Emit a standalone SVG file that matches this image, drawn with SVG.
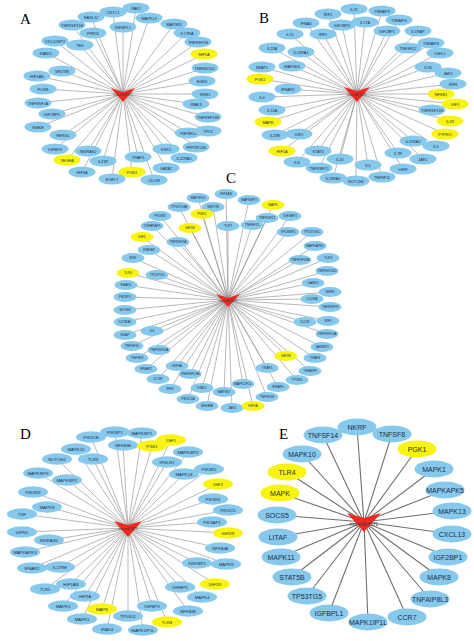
<svg xmlns="http://www.w3.org/2000/svg" xmlns:xlink="http://www.w3.org/1999/xlink" width="474" height="641" viewBox="0 0 474 641">
<style>
.b{fill:#87C9EC}
.y{fill:#F8F40F}
text{font-family:"Liberation Sans",Arial,sans-serif;fill:#1E2C48;text-anchor:middle;dominant-baseline:central}
.ta{font-size:3.9px}
.tc{font-size:3.3px}
.td{font-size:4.3px}
.te{font-size:7px}
.lab{font-family:"Liberation Serif","Times New Roman",serif;font-size:15px;fill:#000;text-anchor:start;dominant-baseline:auto}
.ed{stroke:#8A8A8A;stroke-width:0.6;fill:none}
.ede{stroke:#707070;stroke-width:1.1;fill:none}
.red{fill:#F02A22}
.cl{font-size:3px;fill:#333}
</style>
<defs>
<ellipse id="ea" rx="13.5" ry="5.5"/>
<ellipse id="ec" rx="11.5" ry="5"/>
<ellipse id="ed" rx="15" ry="5.8"/>
<ellipse id="ee" rx="19.5" ry="8.5"/>
</defs>
<rect width="474" height="641" fill="#fff"/>
<text class="lab" x="20" y="24">A</text>
<text class="lab" x="259" y="23">B</text>
<text class="lab" x="226" y="183">C</text>
<text class="lab" x="20" y="439">D</text>
<text class="lab" x="279" y="439">E</text>
<g id="connectors">
<path class="ed" d="M123 94L136 8M123 94L113 12M123 94L91 17M123 94L149 18M123 94L174 24M123 94L72 25M123 94L123 27M123 94L93 33M123 94L187 33M123 94L55 41M123 94L80 45M123 94L198 42M123 94L46 53M123 94L204 54M123 94L205 68M123 94L62 71M123 94L37 76M123 94L202 81M123 94L43 89M123 94L205 94M123 94L38 103M123 94L196 104M123 94L52 114M123 94L208 117M123 94L38 127M123 94L63 135M123 94L188 133M123 94L208 131M123 94L55 149M123 94L88 151M123 94L166 149M123 94L196 147M123 94L138 157M123 94L67 160M123 94L103 161M123 94L184 158M123 94L166 168M123 94L132 172M123 94L82 172M123 94L112 179M123 94L154 180"/>
<path class="ed" d="M357 94L354 9M357 94L328 14M357 94L382 11M357 94L306 23M357 94L342 25M357 94L365 22M357 94L399 20M357 94L290 34M357 94L323 34M357 94L387 31M357 94L418 31M357 94L272 48M357 94L301 52M357 94L408 48M357 94L431 43M357 94L440 53M357 94L262 67M357 94L292 66M357 94L428 67M357 94L260 79M357 94L448 73M357 94L288 89M357 94L453 84M357 94L262 97M357 94L441 94M357 94L455 104M357 94L272 110M357 94L432 110M357 94L268 122M357 94L450 121M357 94L275 135M357 94L299 134M357 94L445 134M357 94L413 141M357 94L436 146M357 94L282 151M357 94L318 151M357 94L398 153M357 94L423 159M357 94L297 162M357 94L340 159M357 94L368 165M357 94L403 169M357 94L319 168M357 94L333 178M357 94L356 181M357 94L382 177"/>
<path class="ed" d="M228 300L226 194M228 300L198 198M228 300L249 200M228 300L179 207M228 300L213 207M228 300L273 205M228 300L160 216M228 300L202 214M228 300L267 218M228 300L290 216M228 300L152 226M228 300L190 228M228 300L228 226M228 300L252 225M228 300L288 232M228 300L312 232M228 300L142 237M228 300L178 242M228 300L315 246M228 300L149 250M228 300L133 258M228 300L300 260M228 300L328 258M228 300L128 273M228 300L157 275M228 300L327 271M228 300L126 285M228 300L313 283M228 300L125 297M228 300L330 292M228 300L312 299M228 300L125 310M228 300L330 307M228 300L125 322M228 300L305 322M228 300L328 321M228 300L125 335M228 300L152 331M228 300L327 334M228 300L132 346M228 300L159 350M228 300L322 347M228 300L286 356M228 300L137 358M228 300L315 358M228 300L146 369M228 300L177 366M228 300L267 368M228 300L310 371M228 300L158 379M228 300L190 374M228 300L297 380M228 300L170 389M228 300L202 388M228 300L243 384M228 300L278 387M228 300L224 392M228 300L188 399M228 300L267 397M228 300L207 406M228 300L232 408M228 300L253 406"/>
<path class="ed" d="M128 528L115 432M128 528L142 433M128 528L91 437M128 528L171 440M128 528L123 445M128 528L152 446M128 528L76 449M128 528L188 452M128 528L57 459M128 528L93 459M128 528L167 462M128 528L209 469M128 528L38 473M128 528L67 480M128 528L184 474M128 528L218 484M128 528L33 492M128 528L213 499M128 528L47 507M128 528L228 510M128 528L22 514M128 528L212 522M128 528L22 532M128 528L228 533M128 528L49 540M128 528L220 548M128 528L25 552M128 528L197 563M128 528L226 564M128 528L32 568M128 528L60 567M128 528L215 584M128 528L71 584M128 528L45 589M128 528L180 587M128 528L85 596M128 528L202 597M128 528L63 606M128 528L152 606M128 528L102 609M128 528L188 611M128 528L128 616M128 528L82 619M128 528L167 622M128 528L107 629M128 528L143 630"/>
<path class="ede" d="M364 522L357 427M364 522L323 435M364 522L392 434M364 522L417 449M364 522L302 454M364 522L434 469M364 522L287 472M364 522L445 490M364 522L280 493M364 522L452 511M364 522L277 515M364 522L278 537M364 522L452 534M364 522L281 557M364 522L448 557M364 522L292 577M364 522L439 577M364 522L307 596M364 522L430 599M364 522L329 613M364 522L407 617M364 522L368 622"/>
</g>
<g id="panelA">
<g id="A-center"><polygon class="red" points="111,88 123,92 135,88 123,102"/><text class="cl" x="123" y="95">hsa-miR-8071</text></g>
<g id="A-PAK2"><use xlink:href="#ea" class="b" x="136" y="8"/><text class="ta" x="136" y="8">PAK2</text></g>
<g id="A-CRTC1"><use xlink:href="#ea" class="b" x="113" y="12"/><text class="ta" x="113" y="12">CRTC1</text></g>
<g id="A-RASL12"><use xlink:href="#ea" class="b" x="91" y="17"/><text class="ta" x="91" y="17">RASL12</text></g>
<g id="A-MAPK14"><use xlink:href="#ea" class="b" x="149" y="18"/><text class="ta" x="149" y="18">MAPK14</text></g>
<g id="A-MAP3K3"><use xlink:href="#ea" class="b" x="174" y="24"/><text class="ta" x="174" y="24">MAP3K3</text></g>
<g id="A-TNFRSF11B"><use xlink:href="#ea" class="b" x="72" y="25"/><text class="ta" x="72" y="25">TNFRSF11B</text></g>
<g id="A-IGFBPL1"><use xlink:href="#ea" class="b" x="123" y="27"/><text class="ta" x="123" y="27">IGFBPL1</text></g>
<g id="A-PRR11"><use xlink:href="#ea" class="b" x="93" y="33"/><text class="ta" x="93" y="33">PRR11</text></g>
<g id="A-IL17RA"><use xlink:href="#ea" class="b" x="187" y="33"/><text class="ta" x="187" y="33">IL17RA</text></g>
<g id="A-CDC42EP2"><use xlink:href="#ea" class="b" x="55" y="41"/><text class="ta" x="55" y="41">CDC42EP2</text></g>
<g id="A-TEK"><use xlink:href="#ea" class="b" x="80" y="45"/><text class="ta" x="80" y="45">TEK</text></g>
<g id="A-TNFRSF1B"><use xlink:href="#ea" class="b" x="198" y="42"/><text class="ta" x="198" y="42">TNFRSF1B</text></g>
<g id="A-RAB21"><use xlink:href="#ea" class="b" x="46" y="53"/><text class="ta" x="46" y="53">RAB21</text></g>
<g id="A-HIF1A"><use xlink:href="#ea" class="y" x="204" y="54"/><text class="ta" x="204" y="54">HIF1A</text></g>
<g id="A-TMEM150C"><use xlink:href="#ea" class="b" x="205" y="68"/><text class="ta" x="205" y="68">TMEM150C</text></g>
<g id="A-WNT9B"><use xlink:href="#ea" class="b" x="62" y="71"/><text class="ta" x="62" y="71">WNT9B</text></g>
<g id="A-HIF1AN"><use xlink:href="#ea" class="b" x="37" y="76"/><text class="ta" x="37" y="76">HIF1AN</text></g>
<g id="A-EGR3"><use xlink:href="#ea" class="b" x="202" y="81"/><text class="ta" x="202" y="81">EGR3</text></g>
<g id="A-FOSB"><use xlink:href="#ea" class="b" x="43" y="89"/><text class="ta" x="43" y="89">FOSB</text></g>
<g id="A-SIKE1"><use xlink:href="#ea" class="b" x="205" y="94"/><text class="ta" x="205" y="94">SIKE1</text></g>
<g id="A-TNFRSF1A"><use xlink:href="#ea" class="b" x="38" y="103"/><text class="ta" x="38" y="103">TNFRSF1A</text></g>
<g id="A-IRAK3"><use xlink:href="#ea" class="b" x="196" y="104"/><text class="ta" x="196" y="104">IRAK3</text></g>
<g id="A-IGF2BP1"><use xlink:href="#ea" class="b" x="52" y="114"/><text class="ta" x="52" y="114">IGF2BP1</text></g>
<g id="A-TNFRSF13B"><use xlink:href="#ea" class="b" x="208" y="117"/><text class="ta" x="208" y="117">TNFRSF13B</text></g>
<g id="A-IKBKE"><use xlink:href="#ea" class="b" x="38" y="127"/><text class="ta" x="38" y="127">IKBKE</text></g>
<g id="A-RERGL"><use xlink:href="#ea" class="b" x="63" y="135"/><text class="ta" x="63" y="135">RERGL</text></g>
<g id="A-TNFSF14"><use xlink:href="#ea" class="b" x="188" y="133"/><text class="ta" x="188" y="133">TNFSF14</text></g>
<g id="A-TP53"><use xlink:href="#ea" class="b" x="208" y="131"/><text class="ta" x="208" y="131">TP53</text></g>
<g id="A-IGFBP4"><use xlink:href="#ea" class="b" x="55" y="149"/><text class="ta" x="55" y="149">IGFBP4</text></g>
<g id="A-NKIRAS2"><use xlink:href="#ea" class="b" x="88" y="151"/><text class="ta" x="88" y="151">NKIRAS2</text></g>
<g id="A-KSR1"><use xlink:href="#ea" class="b" x="166" y="149"/><text class="ta" x="166" y="149">KSR1</text></g>
<g id="A-PPP1R12B"><use xlink:href="#ea" class="b" x="196" y="147"/><text class="ta" x="196" y="147">PPP1R12B</text></g>
<g id="A-TRAF3"><use xlink:href="#ea" class="b" x="138" y="157"/><text class="ta" x="138" y="157">TRAF3</text></g>
<g id="A-VEGFA"><use xlink:href="#ea" class="y" x="67" y="160"/><text class="ta" x="67" y="160">VEGFA</text></g>
<g id="A-IL23R"><use xlink:href="#ea" class="b" x="103" y="161"/><text class="ta" x="103" y="161">IL23R</text></g>
<g id="A-IL22RA2"><use xlink:href="#ea" class="b" x="184" y="158"/><text class="ta" x="184" y="158">IL22RA2</text></g>
<g id="A-GATA2"><use xlink:href="#ea" class="b" x="166" y="168"/><text class="ta" x="166" y="168">GATA2</text></g>
<g id="A-PGK1"><use xlink:href="#ea" class="y" x="132" y="172"/><text class="ta" x="132" y="172">PGK1</text></g>
<g id="A-HIF3A"><use xlink:href="#ea" class="b" x="82" y="172"/><text class="ta" x="82" y="172">HIF3A</text></g>
<g id="A-EGFL7"><use xlink:href="#ea" class="b" x="112" y="179"/><text class="ta" x="112" y="179">EGFL7</text></g>
<g id="A-CDON"><use xlink:href="#ea" class="b" x="154" y="180"/><text class="ta" x="154" y="180">CDON</text></g>
</g>
<g id="panelB">
<g id="B-center"><polygon class="red" points="344,87 357,91 370,87 357,102"/><text class="cl" x="357" y="95">hsa-miR-8071</text></g>
<g id="B-IL22"><use xlink:href="#ea" class="b" x="354" y="9"/><text class="ta" x="354" y="9">IL22</text></g>
<g id="B-IRF2"><use xlink:href="#ea" class="b" x="328" y="14"/><text class="ta" x="328" y="14">IRF2</text></g>
<g id="B-TNFAIP3"><use xlink:href="#ea" class="b" x="382" y="11"/><text class="ta" x="382" y="11">TNFAIP3</text></g>
<g id="B-IFNA4"><use xlink:href="#ea" class="b" x="306" y="23"/><text class="ta" x="306" y="23">IFNA4</text></g>
<g id="B-IGF2BP3"><use xlink:href="#ea" class="b" x="342" y="25"/><text class="ta" x="342" y="25">IGF2BP3</text></g>
<g id="B-IL17A"><use xlink:href="#ea" class="b" x="365" y="22"/><text class="ta" x="365" y="22">IL17A</text></g>
<g id="B-TNFAIP6"><use xlink:href="#ea" class="b" x="399" y="20"/><text class="ta" x="399" y="20">TNFAIP6</text></g>
<g id="B-IL15"><use xlink:href="#ea" class="b" x="290" y="34"/><text class="ta" x="290" y="34">IL15</text></g>
<g id="B-IRF1"><use xlink:href="#ea" class="b" x="323" y="34"/><text class="ta" x="323" y="34">IRF1</text></g>
<g id="B-IGF2BP1"><use xlink:href="#ea" class="b" x="387" y="31"/><text class="ta" x="387" y="31">IGF2BP1</text></g>
<g id="B-IL1RAP"><use xlink:href="#ea" class="b" x="418" y="31"/><text class="ta" x="418" y="31">IL1RAP</text></g>
<g id="B-IL23A"><use xlink:href="#ea" class="b" x="272" y="48"/><text class="ta" x="272" y="48">IL23A</text></g>
<g id="B-IL13RA1"><use xlink:href="#ea" class="b" x="301" y="52"/><text class="ta" x="301" y="52">IL13RA1</text></g>
<g id="B-TNFSF12"><use xlink:href="#ea" class="b" x="408" y="48"/><text class="ta" x="408" y="48">TNFSF12</text></g>
<g id="B-TNFAIP8"><use xlink:href="#ea" class="b" x="431" y="43"/><text class="ta" x="431" y="43">TNFAIP8</text></g>
<g id="B-IGFL1"><use xlink:href="#ea" class="b" x="440" y="53"/><text class="ta" x="440" y="53">IGFL1</text></g>
<g id="B-NFAT5"><use xlink:href="#ea" class="b" x="262" y="67"/><text class="ta" x="262" y="67">NFAT5</text></g>
<g id="B-MAP4K4"><use xlink:href="#ea" class="b" x="292" y="66"/><text class="ta" x="292" y="66">MAP4K4</text></g>
<g id="B-IL33"><use xlink:href="#ea" class="b" x="428" y="67"/><text class="ta" x="428" y="67">IL33</text></g>
<g id="B-PGK1"><use xlink:href="#ea" class="y" x="260" y="79"/><text class="ta" x="260" y="79">PGK1</text></g>
<g id="B-JAK2"><use xlink:href="#ea" class="b" x="448" y="73"/><text class="ta" x="448" y="73">JAK2</text></g>
<g id="B-IFNAR1"><use xlink:href="#ea" class="b" x="288" y="89"/><text class="ta" x="288" y="89">IFNAR1</text></g>
<g id="B-IRF8"><use xlink:href="#ea" class="b" x="453" y="84"/><text class="ta" x="453" y="84">IRF8</text></g>
<g id="B-IL4"><use xlink:href="#ea" class="b" x="262" y="97"/><text class="ta" x="262" y="97">IL4</text></g>
<g id="B-NFKB1"><use xlink:href="#ea" class="y" x="441" y="94"/><text class="ta" x="441" y="94">NFKB1</text></g>
<g id="B-IGF1"><use xlink:href="#ea" class="y" x="455" y="104"/><text class="ta" x="455" y="104">IGF1</text></g>
<g id="B-IL12A"><use xlink:href="#ea" class="b" x="272" y="110"/><text class="ta" x="272" y="110">IL12A</text></g>
<g id="B-TNFRSF11B"><use xlink:href="#ea" class="b" x="432" y="110"/><text class="ta" x="432" y="110">TNFRSF11B</text></g>
<g id="B-MAPK"><use xlink:href="#ea" class="y" x="268" y="122"/><text class="ta" x="268" y="122">MAPK</text></g>
<g id="B-IL29"><use xlink:href="#ea" class="y" x="450" y="121"/><text class="ta" x="450" y="121">IL29</text></g>
<g id="B-IL23R"><use xlink:href="#ea" class="b" x="275" y="135"/><text class="ta" x="275" y="135">IL23R</text></g>
<g id="B-IGF2"><use xlink:href="#ea" class="b" x="299" y="134"/><text class="ta" x="299" y="134">IGF2</text></g>
<g id="B-PTPRO"><use xlink:href="#ea" class="y" x="445" y="134"/><text class="ta" x="445" y="134">PTPRO</text></g>
<g id="B-IL22RA2"><use xlink:href="#ea" class="b" x="413" y="141"/><text class="ta" x="413" y="141">IL22RA2</text></g>
<g id="B-IL5"><use xlink:href="#ea" class="b" x="436" y="146"/><text class="ta" x="436" y="146">IL5</text></g>
<g id="B-HIF1A"><use xlink:href="#ea" class="y" x="282" y="151"/><text class="ta" x="282" y="151">HIF1A</text></g>
<g id="B-STAT3"><use xlink:href="#ea" class="b" x="318" y="151"/><text class="ta" x="318" y="151">STAT3</text></g>
<g id="B-IL7R"><use xlink:href="#ea" class="b" x="398" y="153"/><text class="ta" x="398" y="153">IL7R</text></g>
<g id="B-JAK1"><use xlink:href="#ea" class="b" x="423" y="159"/><text class="ta" x="423" y="159">JAK1</text></g>
<g id="B-IL8"><use xlink:href="#ea" class="b" x="297" y="162"/><text class="ta" x="297" y="162">IL8</text></g>
<g id="B-IL20"><use xlink:href="#ea" class="b" x="340" y="159"/><text class="ta" x="340" y="159">IL20</text></g>
<g id="B-IL6"><use xlink:href="#ea" class="b" x="368" y="165"/><text class="ta" x="368" y="165">IL6</text></g>
<g id="B-IGFR"><use xlink:href="#ea" class="b" x="403" y="169"/><text class="ta" x="403" y="169">IGFR</text></g>
<g id="B-TNFRSF21"><use xlink:href="#ea" class="b" x="319" y="168"/><text class="ta" x="319" y="168">TNFRSF21</text></g>
<g id="B-IL13RA2"><use xlink:href="#ea" class="b" x="333" y="178"/><text class="ta" x="333" y="178">IL13RA2</text></g>
<g id="B-NOTCH2"><use xlink:href="#ea" class="b" x="356" y="181"/><text class="ta" x="356" y="181">NOTCH2</text></g>
<g id="B-TNFSF11"><use xlink:href="#ea" class="b" x="382" y="177"/><text class="ta" x="382" y="177">TNFSF11</text></g>
</g>
<g id="panelC">
<g id="C-center"><polygon class="red" points="216,294 228,298 240,294 228,307"/><text class="cl" x="228" y="301">hsa-miR-8071</text></g>
<g id="C-HIF1AN"><use xlink:href="#ec" class="b" x="226" y="194"/><text class="tc" x="226" y="194">HIF1AN</text></g>
<g id="C-MAP3K13"><use xlink:href="#ec" class="b" x="198" y="198"/><text class="tc" x="198" y="198">MAP3K13</text></g>
<g id="C-MAPK8IP2"><use xlink:href="#ec" class="b" x="249" y="200"/><text class="tc" x="249" y="200">MAPK8IP2</text></g>
<g id="C-TP53TG3B"><use xlink:href="#ec" class="b" x="179" y="207"/><text class="tc" x="179" y="207">TP53TG3B</text></g>
<g id="C-WNT7B"><use xlink:href="#ec" class="b" x="213" y="207"/><text class="tc" x="213" y="207">WNT7B</text></g>
<g id="C-MAPK"><use xlink:href="#ec" class="y" x="273" y="205"/><text class="tc" x="273" y="205">MAPK</text></g>
<g id="C-PIK3R3"><use xlink:href="#ec" class="b" x="160" y="216"/><text class="tc" x="160" y="216">PIK3R3</text></g>
<g id="C-PGK1"><use xlink:href="#ec" class="y" x="202" y="214"/><text class="tc" x="202" y="214">PGK1</text></g>
<g id="C-TNFRSF21"><use xlink:href="#ec" class="b" x="267" y="218"/><text class="tc" x="267" y="218">TNFRSF21</text></g>
<g id="C-IGF2BP3"><use xlink:href="#ec" class="b" x="290" y="216"/><text class="tc" x="290" y="216">IGF2BP3</text></g>
<g id="C-TGFBRAP1"><use xlink:href="#ec" class="b" x="152" y="226"/><text class="tc" x="152" y="226">TGFBRAP1</text></g>
<g id="C-IGF1R"><use xlink:href="#ec" class="y" x="190" y="228"/><text class="tc" x="190" y="228">IGF1R</text></g>
<g id="C-TLR7"><use xlink:href="#ec" class="b" x="228" y="226"/><text class="tc" x="228" y="226">TLR7</text></g>
<g id="C-TNFSF15"><use xlink:href="#ec" class="b" x="252" y="225"/><text class="tc" x="252" y="225">TNFSF15</text></g>
<g id="C-TP53INP1"><use xlink:href="#ec" class="b" x="288" y="232"/><text class="tc" x="288" y="232">TP53INP1</text></g>
<g id="C-TP53TG3C"><use xlink:href="#ec" class="b" x="312" y="232"/><text class="tc" x="312" y="232">TP53TG3C</text></g>
<g id="C-IGF1"><use xlink:href="#ec" class="y" x="142" y="237"/><text class="tc" x="142" y="237">IGF1</text></g>
<g id="C-TNFRSF1A"><use xlink:href="#ec" class="b" x="178" y="242"/><text class="tc" x="178" y="242">TNFRSF1A</text></g>
<g id="C-MAPKAPK5"><use xlink:href="#ec" class="b" x="315" y="246"/><text class="tc" x="315" y="246">MAPKAPK5</text></g>
<g id="C-IKBKAP"><use xlink:href="#ec" class="b" x="149" y="250"/><text class="tc" x="149" y="250">IKBKAP</text></g>
<g id="C-IRS1"><use xlink:href="#ec" class="b" x="133" y="258"/><text class="tc" x="133" y="258">IRS1</text></g>
<g id="C-TNFRSF11B"><use xlink:href="#ec" class="b" x="300" y="260"/><text class="tc" x="300" y="260">TNFRSF11B</text></g>
<g id="C-TLR3"><use xlink:href="#ec" class="b" x="328" y="258"/><text class="tc" x="328" y="258">TLR3</text></g>
<g id="C-TLR4"><use xlink:href="#ec" class="y" x="128" y="273"/><text class="tc" x="128" y="273">TLR4</text></g>
<g id="C-TP53TG3"><use xlink:href="#ec" class="b" x="157" y="275"/><text class="tc" x="157" y="275">TP53TG3</text></g>
<g id="C-TNFRSF10D"><use xlink:href="#ec" class="b" x="327" y="271"/><text class="tc" x="327" y="271">TNFRSF10D</text></g>
<g id="C-SMAD5"><use xlink:href="#ec" class="b" x="126" y="285"/><text class="tc" x="126" y="285">SMAD5</text></g>
<g id="C-DAND5"><use xlink:href="#ec" class="b" x="313" y="283"/><text class="tc" x="313" y="283">DAND5</text></g>
<g id="C-PIK3IP1"><use xlink:href="#ec" class="b" x="125" y="297"/><text class="tc" x="125" y="297">PIK3IP1</text></g>
<g id="C-NKRF"><use xlink:href="#ec" class="b" x="330" y="292"/><text class="tc" x="330" y="292">NKRF</text></g>
<g id="C-IL10RA"><use xlink:href="#ec" class="b" x="312" y="299"/><text class="tc" x="312" y="299">IL10RA</text></g>
<g id="C-MYD88"><use xlink:href="#ec" class="b" x="125" y="310"/><text class="tc" x="125" y="310">MYD88</text></g>
<g id="C-TNFRSF19"><use xlink:href="#ec" class="b" x="330" y="307"/><text class="tc" x="330" y="307">TNFRSF19</text></g>
<g id="C-IL22RA1"><use xlink:href="#ec" class="b" x="125" y="322"/><text class="tc" x="125" y="322">IL22RA1</text></g>
<g id="C-IL21R"><use xlink:href="#ec" class="b" x="305" y="322"/><text class="tc" x="305" y="322">IL21R</text></g>
<g id="C-IRF5"><use xlink:href="#ec" class="b" x="328" y="321"/><text class="tc" x="328" y="321">IRF5</text></g>
<g id="C-NKAP"><use xlink:href="#ec" class="b" x="125" y="335"/><text class="tc" x="125" y="335">NKAP</text></g>
<g id="C-IL6"><use xlink:href="#ec" class="b" x="152" y="331"/><text class="tc" x="152" y="331">IL6</text></g>
<g id="C-TNFRSF10A"><use xlink:href="#ec" class="b" x="327" y="334"/><text class="tc" x="327" y="334">TNFRSF10A</text></g>
<g id="C-TNFSF10"><use xlink:href="#ec" class="b" x="132" y="346"/><text class="tc" x="132" y="346">TNFSF10</text></g>
<g id="C-TNFRSF11A"><use xlink:href="#ec" class="b" x="159" y="350"/><text class="tc" x="159" y="350">TNFRSF11A</text></g>
<g id="C-JAKMIP2"><use xlink:href="#ec" class="b" x="322" y="347"/><text class="tc" x="322" y="347">JAKMIP2</text></g>
<g id="C-IGF2R"><use xlink:href="#ec" class="y" x="286" y="356"/><text class="tc" x="286" y="356">IGF2R</text></g>
<g id="C-TNFSF8"><use xlink:href="#ec" class="b" x="137" y="358"/><text class="tc" x="137" y="358">TNFSF8</text></g>
<g id="C-TRAF4"><use xlink:href="#ec" class="b" x="315" y="358"/><text class="tc" x="315" y="358">TRAF4</text></g>
<g id="C-IFNAR2"><use xlink:href="#ec" class="b" x="146" y="369"/><text class="tc" x="146" y="369">IFNAR2</text></g>
<g id="C-HIF3A"><use xlink:href="#ec" class="b" x="177" y="366"/><text class="tc" x="177" y="366">HIF3A</text></g>
<g id="C-TRAF2"><use xlink:href="#ec" class="b" x="267" y="368"/><text class="tc" x="267" y="368">TRAF2</text></g>
<g id="C-TNFAIP8"><use xlink:href="#ec" class="b" x="310" y="371"/><text class="tc" x="310" y="371">TNFAIP8</text></g>
<g id="C-IL23R"><use xlink:href="#ec" class="b" x="158" y="379"/><text class="tc" x="158" y="379">IL23R</text></g>
<g id="C-TNFRSF13B"><use xlink:href="#ec" class="b" x="190" y="374"/><text class="tc" x="190" y="374">TNFRSF13B</text></g>
<g id="C-TP53I3"><use xlink:href="#ec" class="b" x="297" y="380"/><text class="tc" x="297" y="380">TP53I3</text></g>
<g id="C-IRF4"><use xlink:href="#ec" class="b" x="170" y="389"/><text class="tc" x="170" y="389">IRF4</text></g>
<g id="C-STAT2"><use xlink:href="#ec" class="b" x="202" y="388"/><text class="tc" x="202" y="388">STAT2</text></g>
<g id="C-MAPK1IP1L"><use xlink:href="#ec" class="b" x="243" y="384"/><text class="tc" x="243" y="384">MAPK1IP1L</text></g>
<g id="C-IFNAR1"><use xlink:href="#ec" class="b" x="278" y="387"/><text class="tc" x="278" y="387">IFNAR1</text></g>
<g id="C-MAP3K7"><use xlink:href="#ec" class="b" x="224" y="392"/><text class="tc" x="224" y="392">MAP3K7</text></g>
<g id="C-PIK3C2A"><use xlink:href="#ec" class="b" x="188" y="399"/><text class="tc" x="188" y="399">PIK3C2A</text></g>
<g id="C-TNFSF18"><use xlink:href="#ec" class="b" x="267" y="397"/><text class="tc" x="267" y="397">TNFSF18</text></g>
<g id="C-NFKBIB"><use xlink:href="#ec" class="b" x="207" y="406"/><text class="tc" x="207" y="406">NFKBIB</text></g>
<g id="C-JAK3"><use xlink:href="#ec" class="b" x="232" y="408"/><text class="tc" x="232" y="408">JAK3</text></g>
<g id="C-HIF1A"><use xlink:href="#ec" class="y" x="253" y="406"/><text class="tc" x="253" y="406">HIF1A</text></g>
</g>
<g id="panelD">
<g id="D-center"><polygon class="red" points="114,521 128,525 142,521 128,537"/><text class="cl" x="128" y="529">hsa-miR-8071</text></g>
<g id="D-PIK3IP1"><use xlink:href="#ed" class="b" x="115" y="432"/><text class="td" x="115" y="432">PIK3IP1</text></g>
<g id="D-MAPK8IP1"><use xlink:href="#ed" class="b" x="142" y="433"/><text class="td" x="142" y="433">MAPK8IP1</text></g>
<g id="D-PIK3CB"><use xlink:href="#ed" class="b" x="91" y="437"/><text class="td" x="91" y="437">PIK3CB</text></g>
<g id="D-IGF1"><use xlink:href="#ed" class="y" x="171" y="440"/><text class="td" x="171" y="440">IGF1</text></g>
<g id="D-NFKBIB"><use xlink:href="#ed" class="b" x="123" y="445"/><text class="td" x="123" y="445">NFKBIB</text></g>
<g id="D-PGK1"><use xlink:href="#ed" class="y" x="152" y="446"/><text class="td" x="152" y="446">PGK1</text></g>
<g id="D-MAPK10"><use xlink:href="#ed" class="b" x="76" y="449"/><text class="td" x="76" y="449">MAPK10</text></g>
<g id="D-MAPK8IP2"><use xlink:href="#ed" class="b" x="188" y="452"/><text class="td" x="188" y="452">MAPK8IP2</text></g>
<g id="D-NOTCH2"><use xlink:href="#ed" class="b" x="57" y="459"/><text class="td" x="57" y="459">NOTCH2</text></g>
<g id="D-TLR3"><use xlink:href="#ed" class="b" x="93" y="459"/><text class="td" x="93" y="459">TLR3</text></g>
<g id="D-IFNLR1"><use xlink:href="#ed" class="b" x="167" y="462"/><text class="td" x="167" y="462">IFNLR1</text></g>
<g id="D-PIK3R2"><use xlink:href="#ed" class="b" x="209" y="469"/><text class="td" x="209" y="469">PIK3R2</text></g>
<g id="D-MAPK8IP3"><use xlink:href="#ed" class="b" x="38" y="473"/><text class="td" x="38" y="473">MAPK8IP3</text></g>
<g id="D-MAPK8IP1-2"><use xlink:href="#ed" class="b" x="67" y="480"/><text class="td" x="67" y="480">MAPK8IP1</text></g>
<g id="D-MAPK14"><use xlink:href="#ed" class="b" x="184" y="474"/><text class="td" x="184" y="474">MAPK14</text></g>
<g id="D-IGF2"><use xlink:href="#ed" class="y" x="218" y="484"/><text class="td" x="218" y="484">IGF2</text></g>
<g id="D-PIK3R3"><use xlink:href="#ed" class="b" x="33" y="492"/><text class="td" x="33" y="492">PIK3R3</text></g>
<g id="D-PIK3R4"><use xlink:href="#ed" class="b" x="213" y="499"/><text class="td" x="213" y="499">PIK3R4</text></g>
<g id="D-MAPK8"><use xlink:href="#ed" class="b" x="47" y="507"/><text class="td" x="47" y="507">MAPK8</text></g>
<g id="D-PIK3CD"><use xlink:href="#ed" class="b" x="228" y="510"/><text class="td" x="228" y="510">PIK3CD</text></g>
<g id="D-TNF"><use xlink:href="#ed" class="b" x="22" y="514"/><text class="td" x="22" y="514">TNF</text></g>
<g id="D-PIK3AP1"><use xlink:href="#ed" class="b" x="212" y="522"/><text class="td" x="212" y="522">PIK3AP1</text></g>
<g id="D-IGFN1"><use xlink:href="#ed" class="b" x="22" y="532"/><text class="td" x="22" y="532">IGFN1</text></g>
<g id="D-IGF2R"><use xlink:href="#ed" class="y" x="228" y="533"/><text class="td" x="228" y="533">IGF2R</text></g>
<g id="D-NKIRAS2"><use xlink:href="#ed" class="b" x="49" y="540"/><text class="td" x="49" y="540">NKIRAS2</text></g>
<g id="D-NFKBIA"><use xlink:href="#ed" class="b" x="220" y="548"/><text class="td" x="220" y="548">NFKBIA</text></g>
<g id="D-MAPKAPK3"><use xlink:href="#ed" class="b" x="25" y="552"/><text class="td" x="25" y="552">MAPKAPK3</text></g>
<g id="D-IGF2BP1"><use xlink:href="#ed" class="b" x="197" y="563"/><text class="td" x="197" y="563">IGF2BP1</text></g>
<g id="D-MAPK9"><use xlink:href="#ed" class="b" x="226" y="564"/><text class="td" x="226" y="564">MAPK9</text></g>
<g id="D-IFNAR2"><use xlink:href="#ed" class="b" x="32" y="568"/><text class="td" x="32" y="568">IFNAR2</text></g>
<g id="D-IL17RE"><use xlink:href="#ed" class="b" x="60" y="567"/><text class="td" x="60" y="567">IL17RE</text></g>
<g id="D-IGF1R"><use xlink:href="#ed" class="y" x="215" y="584"/><text class="td" x="215" y="584">IGF1R</text></g>
<g id="D-HIF1AN"><use xlink:href="#ed" class="b" x="71" y="584"/><text class="td" x="71" y="584">HIF1AN</text></g>
<g id="D-TLR5"><use xlink:href="#ed" class="b" x="45" y="589"/><text class="td" x="45" y="589">TLR5</text></g>
<g id="D-IGFBP5"><use xlink:href="#ed" class="b" x="180" y="587"/><text class="td" x="180" y="587">IGFBP5</text></g>
<g id="D-HIF3A"><use xlink:href="#ed" class="b" x="85" y="596"/><text class="td" x="85" y="596">HIF3A</text></g>
<g id="D-MAPK4"><use xlink:href="#ed" class="b" x="202" y="597"/><text class="td" x="202" y="597">MAPK4</text></g>
<g id="D-MAPK3"><use xlink:href="#ed" class="b" x="63" y="606"/><text class="td" x="63" y="606">MAPK3</text></g>
<g id="D-IGFBP4"><use xlink:href="#ed" class="b" x="152" y="606"/><text class="td" x="152" y="606">IGFBP4</text></g>
<g id="D-MAPK"><use xlink:href="#ed" class="y" x="102" y="609"/><text class="td" x="102" y="609">MAPK</text></g>
<g id="D-NFKBIE"><use xlink:href="#ed" class="b" x="188" y="611"/><text class="td" x="188" y="611">NFKBIE</text></g>
<g id="D-TP53I11"><use xlink:href="#ed" class="b" x="128" y="616"/><text class="td" x="128" y="616">TP53I11</text></g>
<g id="D-MAPK1"><use xlink:href="#ed" class="b" x="82" y="619"/><text class="td" x="82" y="619">MAPK1</text></g>
<g id="D-TLR4"><use xlink:href="#ed" class="y" x="167" y="622"/><text class="td" x="167" y="622">TLR4</text></g>
<g id="D-IRAK4"><use xlink:href="#ed" class="b" x="107" y="629"/><text class="td" x="107" y="629">IRAK4</text></g>
<g id="D-MAPK1IP1L"><use xlink:href="#ed" class="b" x="143" y="630"/><text class="td" x="143" y="630">MAPK1IP1L</text></g>
</g>
<g id="panelE">
<g id="E-center"><polygon class="red" points="347,513 364,518 381,513 364,532"/><text class="cl" style="font-size:4.5px" x="364" y="524">hsa-miR-8071</text></g>
<g id="E-NKRF"><use xlink:href="#ee" class="b" x="357" y="427"/><text class="te" x="357" y="427">NKRF</text></g>
<g id="E-TNFSF14"><use xlink:href="#ee" class="b" x="323" y="435"/><text class="te" x="323" y="435">TNFSF14</text></g>
<g id="E-TNFSF8"><use xlink:href="#ee" class="b" x="392" y="434"/><text class="te" x="392" y="434">TNFSF8</text></g>
<g id="E-PGK1"><use xlink:href="#ee" class="y" x="417" y="449"/><text class="te" x="417" y="449">PGK1</text></g>
<g id="E-MAPK10"><use xlink:href="#ee" class="b" x="302" y="454"/><text class="te" x="302" y="454">MAPK10</text></g>
<g id="E-MAPK1"><use xlink:href="#ee" class="b" x="434" y="469"/><text class="te" x="434" y="469">MAPK1</text></g>
<g id="E-TLR4"><use xlink:href="#ee" class="y" x="287" y="472"/><text class="te" x="287" y="472">TLR4</text></g>
<g id="E-MAPKAPK5"><use xlink:href="#ee" class="b" x="445" y="490"/><text class="te" x="445" y="490">MAPKAPK5</text></g>
<g id="E-MAPK"><use xlink:href="#ee" class="y" x="280" y="493"/><text class="te" x="280" y="493">MAPK</text></g>
<g id="E-MAPK13"><use xlink:href="#ee" class="b" x="452" y="511"/><text class="te" x="452" y="511">MAPK13</text></g>
<g id="E-SOCS5"><use xlink:href="#ee" class="b" x="277" y="515"/><text class="te" x="277" y="515">SOCS5</text></g>
<g id="E-LITAF"><use xlink:href="#ee" class="b" x="278" y="537"/><text class="te" x="278" y="537">LITAF</text></g>
<g id="E-CXCL13"><use xlink:href="#ee" class="b" x="452" y="534"/><text class="te" x="452" y="534">CXCL13</text></g>
<g id="E-MAPK11"><use xlink:href="#ee" class="b" x="281" y="557"/><text class="te" x="281" y="557">MAPK11</text></g>
<g id="E-IGF2BP1"><use xlink:href="#ee" class="b" x="448" y="557"/><text class="te" x="448" y="557">IGF2BP1</text></g>
<g id="E-STAT5B"><use xlink:href="#ee" class="b" x="292" y="577"/><text class="te" x="292" y="577">STAT5B</text></g>
<g id="E-MAPK8"><use xlink:href="#ee" class="b" x="439" y="577"/><text class="te" x="439" y="577">MAPK8</text></g>
<g id="E-TP53TG5"><use xlink:href="#ee" class="b" x="307" y="596"/><text class="te" x="307" y="596">TP53TG5</text></g>
<g id="E-TNFAIP8L3"><use xlink:href="#ee" class="b" x="430" y="599"/><text class="te" x="430" y="599">TNFAIP8L3</text></g>
<g id="E-IGFBPL1"><use xlink:href="#ee" class="b" x="329" y="613"/><text class="te" x="329" y="613">IGFBPL1</text></g>
<g id="E-CCR7"><use xlink:href="#ee" class="b" x="407" y="617"/><text class="te" x="407" y="617">CCR7</text></g>
<g id="E-MAPK1IP1L"><use xlink:href="#ee" class="b" x="368" y="622"/><text class="te" x="368" y="622">MAPK1IP1L</text></g>
</g>
</svg>
